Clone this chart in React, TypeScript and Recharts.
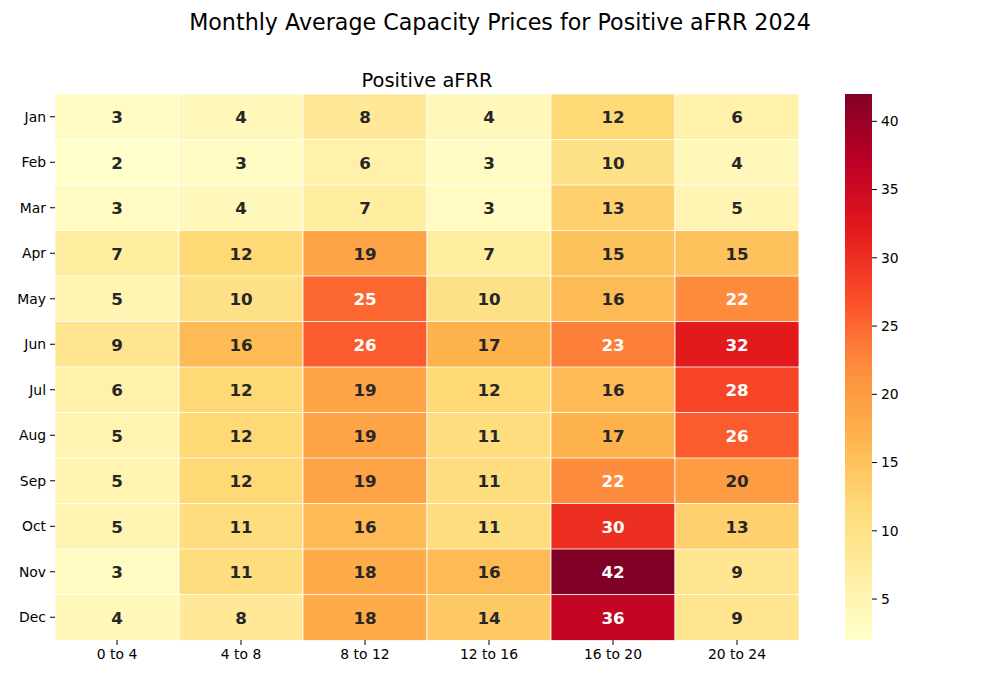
import React from 'react';
import { BarChart, Bar, XAxis, YAxis, Cell, LabelList } from 'recharts';

const months = ['Jan', 'Feb', 'Mar', 'Apr', 'May', 'Jun', 'Jul', 'Aug', 'Sep', 'Oct', 'Nov', 'Dec'];
const hourBlocks = ['0 to 4', '4 to 8', '8 to 12', '12 to 16', '16 to 20', '20 to 24'];

const h0to4 = [3, 2, 3, 7, 5, 9, 6, 5, 5, 5, 3, 4];
const h4to8 = [4, 3, 4, 12, 10, 16, 12, 12, 12, 11, 11, 8];
const h8to12 = [8, 6, 7, 19, 25, 26, 19, 19, 19, 16, 18, 18];
const h12to16 = [4, 3, 3, 7, 10, 17, 12, 11, 11, 11, 16, 14];
const h16to20 = [12, 10, 13, 15, 16, 23, 16, 17, 22, 30, 42, 36];
const h20to24 = [6, 4, 5, 15, 22, 32, 28, 26, 20, 13, 9, 9];

const columns = [h0to4, h4to8, h8to12, h12to16, h16to20, h20to24];

const colorbarTicks = [5, 10, 15, 20, 25, 30, 35, 40];
const vmin = 2;
const vmax = 42;

const YLORRD = ['#ffffcc', '#ffeda0', '#fed976', '#feb24c', '#fd8d3c', '#fc4e2a', '#e31a1c', '#bd0026', '#800026'];

const hexToRgb = (h: string) => [parseInt(h.slice(1, 3), 16), parseInt(h.slice(3, 5), 16), parseInt(h.slice(5, 7), 16)];

const colorRgb = (v: number) => {
  let t = (v - vmin) / (vmax - vmin);
  t = Math.max(0, Math.min(1, t));
  const pos = t * (YLORRD.length - 1);
  const i = Math.min(Math.floor(pos), YLORRD.length - 2);
  const f = pos - i;
  const a = hexToRgb(YLORRD[i]);
  const b = hexToRgb(YLORRD[i + 1]);
  return [0, 1, 2].map((k) => Math.round(a[k] + (b[k] - a[k]) * f));
};

const colorOf = (v: number) => {
  const [r, g, b] = colorRgb(v);
  return `rgb(${r},${g},${b})`;
};

const textColorOf = (v: number) => {
  const lin = colorRgb(v).map((c) => {
    const x = c / 255;
    return x <= 0.03928 ? x / 12.92 : Math.pow((x + 0.055) / 1.055, 2.4);
  });
  const lum = 0.2126 * lin[0] + 0.7152 * lin[1] + 0.0722 * lin[2];
  return lum > 0.408 ? '#262626' : '#ffffff';
};

const rows = months.map((m, r) => {
  const row: any = { month: m };
  columns.forEach((col, c) => {
    row[`v${c}`] = col[r];
  });
  return row;
});

const colorbarData = [{ name: 'cb', range: [vmin, vmax] }];

const FONT = 'DejaVu Sans, Verdana, sans-serif';

const renderValue = (c: number) => (props: any) => {
  const { x, y, width, height, value } = props;
  return (
    <text
      x={Number(x) + Number(width) / 2}
      y={Number(y) + Number(height) / 2}
      textAnchor="middle"
      dominantBaseline="central"
      fontFamily={FONT}
      fontWeight="bold"
      fontSize={16.7}
      fill={textColorOf(Number(value))}
    >
      {value}
    </text>
  );
};

export default function App() {
  return (
    <div style={{ position: 'absolute', left: 0, top: 0, width: 1000, height: 700, background: '#fff', fontFamily: FONT }}>
      <div style={{ position: 'absolute', left: 0, top: 0 }}>
        <BarChart
          width={1000}
          height={700}
          data={rows}
          layout="vertical"
          margin={{ top: 94, right: 201, bottom: 30, left: 5 }}
          barCategoryGap={0}
          barGap={0}
        >
          <XAxis
            type="number"
            domain={[0, 6]}
            ticks={[0.5, 1.5, 2.5, 3.5, 4.5, 5.5]}
            tickFormatter={(v: number) => hourBlocks[Math.floor(v)]}
            interval={0}
            axisLine={false}
            tickLine={{ stroke: '#000' }}
            tickSize={5}
            tickMargin={4}
            height={30}
            tick={{ fill: '#000', fontSize: 13.9, fontFamily: FONT }}
            allowDataOverflow
          />
          <YAxis
            type="category"
            dataKey="month"
            width={50}
            axisLine={false}
            tickLine={{ stroke: '#000' }}
            tickSize={5}
            tickMargin={4}
            interval={0}
            tick={{ fill: '#000', fontSize: 13.9, fontFamily: FONT }}
          />
          {columns.map((col, c) => (
            <Bar key={c} dataKey={() => 1} stackId="a" isAnimationActive={false}>
              {rows.map((row, r) => (
                <Cell key={r} fill={colorOf(row[`v${c}`])} stroke="#ffffff" strokeWidth={0.8} />
              ))}
              <LabelList dataKey={`v${c}`} content={renderValue(c)} />
            </Bar>
          ))}
        </BarChart>
      </div>
      <div style={{ position: 'absolute', left: 845, top: 0 }}>
        <BarChart
          width={80}
          height={700}
          data={colorbarData}
          margin={{ top: 94, right: 0, bottom: 60, left: 0 }}
          barCategoryGap={0}
        >
          <defs>
            <linearGradient id="ylorrd" x1="0" y1="1" x2="0" y2="0">
              {YLORRD.map((c, i) => (
                <stop key={i} offset={i / (YLORRD.length - 1)} stopColor={c} />
              ))}
            </linearGradient>
          </defs>
          <XAxis type="category" dataKey="name" hide />
          <YAxis
            type="number"
            orientation="right"
            domain={[vmin, vmax]}
            ticks={colorbarTicks}
            allowDataOverflow
            width={53}
            axisLine={false}
            tickLine={{ stroke: '#000' }}
            tickSize={5}
            tickMargin={4}
            interval={0}
            tick={{ fill: '#000', fontSize: 13.9, fontFamily: FONT }}
          />
          <Bar dataKey="range" fill="url(#ylorrd)" isAnimationActive={false} />
        </BarChart>
      </div>
      <svg width={1000} height={700} style={{ position: 'absolute', left: 0, top: 0, pointerEvents: 'none' }}>
        <text x={500} y={30} textAnchor="middle" fontFamily={FONT} fontSize={22.2} fill="#000">
          Monthly Average Capacity Prices for Positive aFRR 2024
        </text>
        <text x={427} y={87} textAnchor="middle" fontFamily={FONT} fontSize={19.4} fill="#000">
          Positive aFRR
        </text>
      </svg>
    </div>
  );
}
